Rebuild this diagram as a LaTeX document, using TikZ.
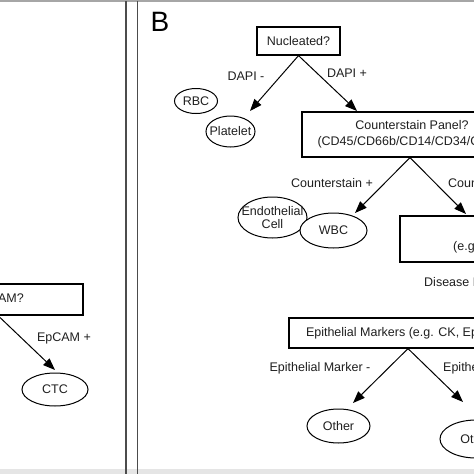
\documentclass[tikz,border=0pt]{standalone}
\usepackage{fontspec}
\setmainfont{Liberation Sans}
\usetikzlibrary{shapes.geometric,arrows.meta}
\begin{document}
\begin{tikzpicture}[x=1pt,y=-1pt,
  every node/.style={font=\fontsize{12.5}{13.5}\selectfont, text=black!88},
  box/.style={draw, rectangle, line width=1.2pt, fill=white, inner sep=0pt},
  ell/.style={draw, ellipse, line width=1pt, fill=white, inner sep=0pt},
  txt/.style={inner sep=0pt, align=center},
  arr/.style={-{Triangle[length=12pt,width=9pt]}, line width=1pt},
  frame/.style={draw=black!70, line width=1.4pt}]
\useasboundingbox (0,0) rectangle (474,474);
\clip (0,0) rectangle (474,474);
\fill[white] (0,0) rectangle (474,474);
\fill[black!35] (0,0) rectangle (474,2.3);
\fill[black!10] (0,469) rectangle (474,474);
\draw[frame] (126,1) -- (126,474);
\draw[frame] (137.5,1) -- (137.5,474);

% Panel A
\node[box, minimum width=170, minimum height=31] (boxA) at (-2,299.5) {};
\node[txt, anchor=east] (boxAt) at (24,299.5) {EpCAM?};
\node[ell, minimum width=66, minimum height=33] (ctc) at (55,389.5) {};
\node[txt] (ctct) at (ctc) {CTC};
\coordinate (tipCTC) at (55,370);
\draw[arr] (boxA.south) -- (tipCTC);
\node[txt] (lEp) at (64,338) {EpCAM +};

% Panel B
\node[inner sep=0pt, font=\fontsize{28}{30}\selectfont, text=black] (B) at (160,22) {B};

\node[box, minimum width=83, minimum height=28] (nuc) at (298.5,41) {};
\node[txt] (nuct) at (nuc) {Nucleated?};
\node[ell, minimum width=43, minimum height=25] (rbc) at (196,101) {};
\node[txt] (rbct) at (rbc) {RBC};
\node[ell, minimum width=49, minimum height=31] (plt) at (230.5,131.5) {};
\node[txt] (pltt) at (plt) {Platelet};
\coordinate (tipDm) at (250,111);
\coordinate (tipDp) at (357,111);
\draw[arr] (nuc.south) -- (tipDm);
\draw[arr] (nuc.south) -- (tipDp);
\node[txt] (lDm) at (246,76) {DAPI -};
\node[txt] (lDp) at (347,73) {DAPI +};

\node[box, minimum width=216, minimum height=45] (cp) at (410,134.5) {};
\node[txt] (cpt) at (412,134.5) {Counterstain Panel?\\[2pt](CD45/CD66b/CD14/CD34/CD31)};
\coordinate (tipCm) at (355,213);
\coordinate (tipCp) at (466,214);
\draw[arr] (cp.south) -- (tipCm);
\draw[arr] (cp.south) -- (tipCp);
\node[txt] (lCp) at (332,183) {Counterstain +};
\node[txt, anchor=west] (lCm) at (448,183) {Counterstain -};

\node[ell, minimum width=69, minimum height=41] (endo) at (272.5,217.5) {};
\node[txt] (endot) at (endo) {Endothelial\\Cell};
\node[ell, minimum width=67, minimum height=35] (wbc) at (333.5,230.5) {};
\node[txt] (wbct) at (wbc) {WBC};

\node[box, minimum width=220, minimum height=46] (dis) at (510,239) {};
\node[txt, anchor=west] (dist) at (453,247) {(e.g.};
\node[txt, anchor=west] (lDis) at (424,282) {Disease Marker -};

\node[box, minimum width=238, minimum height=30] (epi) at (408,333) {};
\node[txt] (epit) at (epi) {Epithelial Markers (e.g. CK, EpCAM)};
\coordinate (tipEm) at (353,403);
\coordinate (tipEp) at (463,402);
\draw[arr] (epi.south) -- (tipEm);
\draw[arr] (epi.south) -- (tipEp);
\node[txt] (lEm) at (320,368) {Epithelial Marker -};
\node[txt, anchor=west] (lEpp) at (443,368) {Epithelial Marker +};

\node[ell, minimum width=63, minimum height=34] (oth) at (338.5,426) {};
\node[txt] (otht) at (oth) {Other};
\node[ell, minimum width=72, minimum height=38] (oth2) at (476,439) {};
\node[txt] (oth2t) at (oth2) {Other};
\end{tikzpicture}
\end{document}
